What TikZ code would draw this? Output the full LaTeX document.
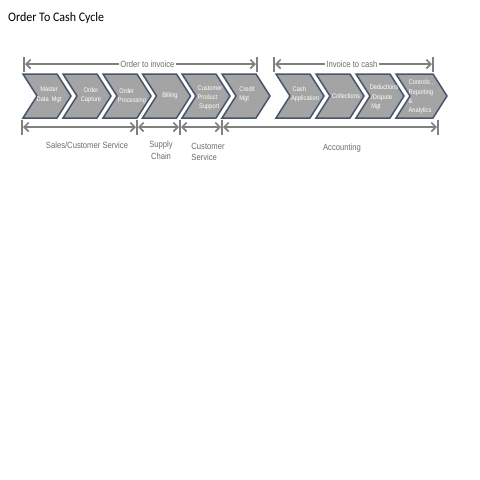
\documentclass[tikz,border=0pt]{standalone}
\usepackage{fontspec}
\setmainfont{Liberation Sans}
\newfontfamily\titlefont[FakeStretch=0.92]{Carlito}
\newfontfamily\narrowfont[FakeStretch=0.85]{Liberation Sans}
\usetikzlibrary{arrows.meta}
\definecolor{chevfill}{RGB}{164,164,164}
\definecolor{chevline}{RGB}{70,86,110}
\definecolor{spangray}{RGB}{128,128,128}
\definecolor{labgray}{RGB}{110,110,110}
\tikzset{
  chev/.style={fill=chevfill, draw=chevline, line width=1.5pt, line join=miter},
  chevtext/.style={text=white, font=\narrowfont\fontsize{6.7}{9.3}\selectfont, inner sep=0pt},
  barb/.tip={Straight Barb[length=4.5pt,width=9pt,line width=1.6pt]},
  span/.style={draw=spangray, line width=2pt, barb-barb, shorten <=1pt, shorten >=1pt},
  endbar/.style={draw=spangray, line width=2.2pt},
  spanlabel/.style={text=labgray, font=\narrowfont\fontsize{9}{11.5}\selectfont, align=center, inner sep=1.5pt},
}
\begin{document}
\begin{tikzpicture}[x=1pt,y=-1pt]
\useasboundingbox[fill=white] (0,0) rectangle (480,480);
% title
\node[anchor=base west, inner sep=0pt, font=\titlefont\fontsize{13}{15}\selectfont] (title) at (8,21) {Order To Cash Cycle};
% chevrons
\foreach \x/\w in {23/34,63/34,103/34,142.5/34,182/34,222/34,276/34,316/34,356/34,396/37}{
  \draw[chev] (\x,74) -- ++(\w,0) -- ++(14,22) -- ++(-14,22) -- ++(-\w,0) -- ++(14,-22) -- cycle;
}
% chevron texts
\node[chevtext, align=center] (m1) at (49,95) {Master\\Data\ \ Mgt};
\node[chevtext, align=center] (m2) at (91,95.5) {Order\\Capture};
\node[chevtext, align=left] (m3) at (132,96) {\ Order\\Processing};
\node[chevtext] (m4) at (170,96) {Billing};
\node[chevtext, align=left] (m5) at (210,98) {Customer\\Product\\\ Support};
\node[chevtext, align=left] (m6) at (247,94) {Credit\\Mgt};
\node[chevtext, align=left] (m7) at (305,94) {\ Cash\\Application};
\node[chevtext] (m8) at (346,96) {Collections};
\node[chevtext, align=left] (m9) at (384,97.5) {Deductions\\\ /Dispute\\\ Mgt};
\node[chevtext, align=left] (m10) at (421,97) {Controls ,\\Reporting\\\&\\Analytics};
% top spans
\coordinate (t1) at (24,64);
\coordinate (t2) at (257,64);
\coordinate (t3) at (274,64);
\coordinate (t4) at (433,64);
\foreach \c in {t1,t2,t3,t4}{
  \draw[endbar] ([yshift=7.5pt]\c) -- ([yshift=-7.5pt]\c);
}
\draw[span] (t1) -- (t2) node[pos=0.53, fill=white, spanlabel] (l1) {Order to invoice};
\draw[span] (t3) -- (t4) node[pos=0.49, fill=white, spanlabel] (l2) {Invoice to cash};
% bottom spans
\coordinate (b1) at (22,127);
\coordinate (b2) at (137,127);
\coordinate (b3) at (180,127);
\coordinate (b4) at (222,127);
\coordinate (b5) at (438,127);
\foreach \c in {b1,b2,b3,b4,b5}{
  \draw[endbar] ([yshift=7.5pt]\c) -- ([yshift=-7.5pt]\c);
}
\draw[span] (b1) -- (b2);
\draw[span] (b2) -- (b3);
\draw[span] (b3) -- (b4);
\draw[span] (b4) -- (b5);
% bottom labels
\node[spanlabel] (s1) at (87,145) {Sales/Customer Service};
\node[spanlabel] (s2) at (161,150.5) {Supply\\Chain};
\node[spanlabel, align=left] (s3) at (208,152) {Customer\\Service};
\node[spanlabel] (s4) at (342,148) {Accounting};
\end{tikzpicture}
\end{document}
